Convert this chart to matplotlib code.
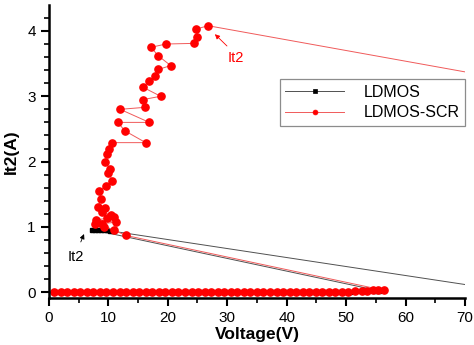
import matplotlib
matplotlib.use("Agg")
import matplotlib.pyplot as plt
from matplotlib.lines import Line2D

plt.rcParams['font.family'] = ['Liberation Sans', 'DejaVu Sans']

# LDMOS (black squares): off-state points, snapback cluster, failure point
ldmos_v = [1.0, 2.3, 4.4, 6.5, 8.6, 10.7, 12.8, 14.9, 17.0, 19.1, 21.2, 23.3,
           25.4, 27.5, 29.6, 31.7, 33.8, 35.9, 38.0, 40.1, 42.2, 44.3, 46.4,
           48.5, 50.6, 52.7, 54.8, 55.6,
           7.2, 7.7, 8.2, 8.8, 9.3, 9.8, 10.3, 80.0]
ldmos_i = [0.0, 0.0, 0.0, 0.0, 0.0, 0.0, 0.0, 0.0, 0.0, 0.0, 0.0, 0.0,
           0.0, 0.0, 0.0, 0.0, 0.0, 0.0, 0.0, 0.0, 0.0, 0.01, 0.01,
           0.01, 0.01, 0.02, 0.02, 0.02,
           0.96, 0.96, 0.96, 0.95, 0.95, 0.95, 0.94, -0.02]

# LDMOS-SCR (red circles)
scr_v = [0.9, 2.0, 3.1, 4.2, 5.3, 6.4, 7.5, 8.6, 9.7, 10.8, 11.9, 13.0,
         14.1, 15.2, 16.3, 17.4, 18.5, 19.6, 20.7, 21.8, 22.9, 24.0, 25.1,
         26.2, 27.3, 28.4, 29.5, 30.6, 31.7, 32.8, 33.9, 35.0, 36.1, 37.2,
         38.3, 39.4, 40.5, 41.6, 42.7, 43.8, 44.9, 46.0, 47.1, 48.2, 49.3,
         50.4, 51.5, 52.6, 53.6, 54.5, 55.4, 56.3,
         12.9, 11.0, 9.2, 7.8, 8.9, 11.3, 8.0, 9.8, 11.0, 10.5, 8.9, 9.4,
         8.3, 8.8, 8.5, 9.6, 10.7, 10.0, 10.3, 9.5, 9.8, 10.2, 10.7, 16.3,
         12.8, 11.6, 16.9, 12.0, 16.1, 15.9, 18.8, 15.8, 16.9, 17.9, 18.4,
         20.5, 18.4, 17.2, 19.7, 24.5, 25.0, 24.8, 26.8, 80.0]
scr_i = [0.0, 0.0, 0.0, 0.0, 0.0, 0.0, 0.0, 0.0, 0.0, 0.0, 0.0, 0.0,
         0.0, 0.0, 0.0, 0.0, 0.0, 0.0, 0.0, 0.0, 0.0, 0.0, 0.0,
         0.0, 0.0, 0.0, 0.0, 0.0, 0.0, 0.0, 0.0, 0.0, 0.0, 0.0,
         0.0, 0.0, 0.0, 0.0, 0.01, 0.01, 0.01, 0.01, 0.01, 0.01, 0.01,
         0.01, 0.02, 0.02, 0.02, 0.03, 0.03, 0.03,
         0.87, 0.95, 1.00, 1.04, 1.05, 1.07, 1.11, 1.13, 1.15, 1.18, 1.23, 1.29,
         1.31, 1.43, 1.55, 1.63, 1.71, 1.83, 1.88, 2.00, 2.11, 2.20, 2.29, 2.29,
         2.47, 2.60, 2.60, 2.80, 2.83, 2.95, 3.00, 3.14, 3.23, 3.31, 3.41,
         3.47, 3.62, 3.75, 3.80, 3.81, 3.91, 4.03, 4.08, 3.21]

black_line = '#505050'
red_line = '#f05a5a'

fig = plt.figure(figsize=(4.74, 3.45), dpi=100)
ax = fig.add_axes([0.103, 0.136, 0.878, 0.85])

ax.plot(ldmos_v, ldmos_i, color=black_line, lw=0.7, marker='s', ms=3,
        mfc='black', mec='black')
ax.plot(scr_v, scr_i, color=red_line, lw=0.7, marker='o', ms=5.2,
        mfc='#ff0000', mec='#ff0000')

# It2 annotations
ax.text(31.5, 3.58, 'It2', color='red', fontsize=10.5, ha='center', va='center')
ax.annotate('', xy=(27.6, 3.98), xytext=(30.3, 3.74),
            arrowprops=dict(arrowstyle='-|>', color='red', lw=0.6, mutation_scale=7))
ax.text(4.6, 0.54, 'It2', color='black', fontsize=10.5, ha='center', va='center')
ax.annotate('', xy=(6.1, 0.93), xytext=(5.2, 0.73),
            arrowprops=dict(arrowstyle='-|>', color='black', lw=0.6, mutation_scale=7))

ax.set_xlim(0, 70)
ax.set_ylim(-0.09, 4.4)
ax.set_xticks([0, 10, 20, 30, 40, 50, 60, 70])
ax.set_xticks([5, 15, 25, 35, 45, 55, 65], minor=True)
ax.set_yticks([0, 1, 2, 3, 4])
ax.set_yticks([0.2, 0.4, 0.6, 0.8, 1.2, 1.4, 1.6, 1.8, 2.2, 2.4, 2.6, 2.8,
               3.2, 3.4, 3.6, 3.8, 4.2], minor=True)

for side in ['top', 'right']:
    ax.spines[side].set_visible(False)
for side in ['left', 'bottom']:
    ax.spines[side].set_linewidth(1.8)

ax.tick_params(which='major', direction='out', length=6, width=1.5, labelsize=11)
ax.tick_params(which='minor', direction='out', length=3.5, width=1.2)

ax.set_xlabel('Voltage(V)', fontsize=12.5, fontweight='bold', labelpad=1)
ax.set_ylabel('It2(A)', fontsize=12.5, fontweight='bold', labelpad=6)

# legend with smaller markers than the plot
handles = [Line2D([], [], color=black_line, lw=0.7, marker='s', ms=3,
                  mfc='black', mec='black', mew=0.5),
           Line2D([], [], color=red_line, lw=0.7, marker='o', ms=3.5,
                  mfc='#ff0000', mec='#ff0000', mew=0.5)]
leg = ax.legend(handles, ['LDMOS', 'LDMOS-SCR'], loc='upper right',
                bbox_to_anchor=(1.0, 0.747), fontsize=11.5,
                frameon=True, fancybox=False, edgecolor='#707070',
                handlelength=3.7, handletextpad=1.2, borderpad=0.35,
                labelspacing=0.35, borderaxespad=0)
leg.get_frame().set_linewidth(0.9)

fig.savefig('out.png', dpi=100)
